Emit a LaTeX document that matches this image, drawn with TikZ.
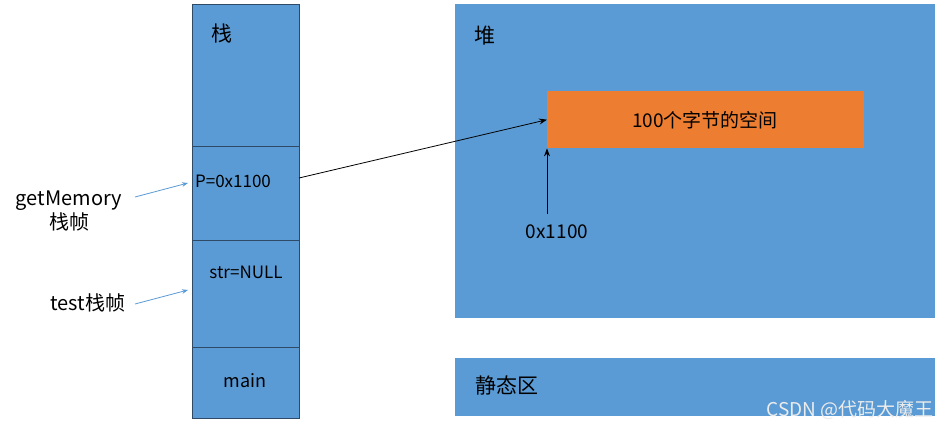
\documentclass[tikz,border=0pt]{standalone}
\usepackage{fontspec}
\setmainfont{Noto Sans CJK SC}
\usetikzlibrary{arrows.meta}
\definecolor{blu}{HTML}{5B9BD5}
\definecolor{edge}{HTML}{2E4A66}
\definecolor{org}{HTML}{ED7D31}
\definecolor{lab}{HTML}{5B9BD5}
\begin{document}
\begin{tikzpicture}[x=1pt,y=-1pt,
  blk/.style={fill=blu,draw=edge,line width=0.8pt},
  txt/.style={font=\fontsize{17}{19}\selectfont,inner sep=0pt},
  big/.style={font=\fontsize{21}{24}\selectfont,inner sep=0pt}]
\useasboundingbox (0,0) rectangle (940,428);
\fill[white] (0,0) rectangle (940,428);
\node[blk,minimum width=107pt,minimum height=142pt,anchor=north west,inner sep=0pt] (s1) at (192,4) {};
\node[blk,minimum width=107pt,minimum height=94pt,anchor=north west,inner sep=0pt] (s2) at (192,146) {};
\node[blk,minimum width=107pt,minimum height=107pt,anchor=north west,inner sep=0pt] (s3) at (192,240) {};
\node[blk,minimum width=107pt,minimum height=71pt,anchor=north west,inner sep=0pt] (s4) at (192,347) {};
\node[fill=blu,minimum width=480pt,minimum height=314pt,anchor=north west,inner sep=0pt] (heap) at (455,4) {};
\node[fill=blu,minimum width=480pt,minimum height=58pt,anchor=north west,inner sep=0pt] (stat) at (455,358) {};
\node[fill=org,minimum width=317pt,minimum height=57pt,anchor=north west,inner sep=0pt] (mem) at (547,91) {};
\node[big] (t1) at (222,34) {栈};
\node[big] (t2) at (485,36) {堆};
\node[big] (t3) at (507,385) {静态区};
\node[txt,font=\fontsize{19}{21}\selectfont] (t4) at (705,120) {100个字节的空间};
\node[txt] (p) at (233,181) {P=0x1100};
\node[txt] (str) at (246,272) {str=NULL};
\node[txt,font=\fontsize{18}{20}\selectfont] (mn) at (245,381) {main};
\node[txt,font=\fontsize{20}{24}\selectfont,align=center] (gm) at (69,211) {getMemory\\栈帧};
\node[txt,font=\fontsize{20}{24}\selectfont] (ts) at (88,303) {test栈帧};
\node[txt,font=\fontsize{19}{22}\selectfont] (addr) at (557,232) {0x1100};
\coordinate (a1) at (135,197); \coordinate (b1) at (188,183);
\coordinate (a2) at (135,304); \coordinate (b2) at (188,290);
\draw[lab,line width=0.8pt,-{Stealth[length=6pt]}] (a1) -- (b1);
\draw[lab,line width=0.8pt,-{Stealth[length=6pt]}] (a2) -- (b2);
\coordinate (pe) at (299,178);
\draw[line width=0.8pt,-{Stealth[length=8pt]}] (pe) -- (mem.west);
\draw[line width=0.8pt,-{Stealth[length=8pt]}] (547,214) -- (mem.south west);
\node[txt,text=white!85!gray,font=\fontsize{19}{21}\selectfont,anchor=east] (wm) at (934,410) {CSDN @代码大魔王};
\end{tikzpicture}
\end{document}
